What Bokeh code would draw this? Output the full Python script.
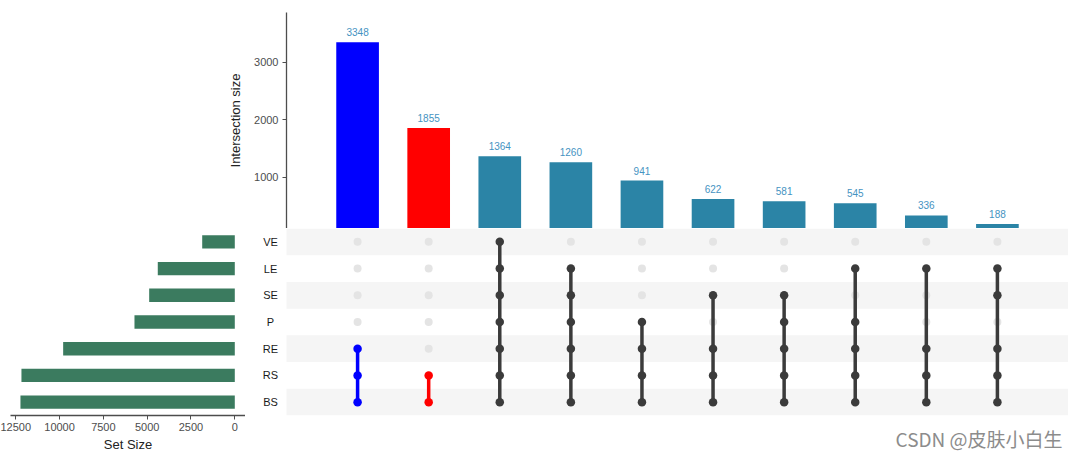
from bokeh.plotting import figure
from bokeh.layouts import column, row
from bokeh.models import Range1d, FactorRange, FixedTicker, Title
from bokeh.core.properties import value
from bokeh.embed import file_html
from bokeh.resources import INLINE

# ---------------- data ----------------
set_names = ["VE", "LE", "SE", "P", "RE", "RS", "BS"]          # top to bottom
set_sizes = [1860, 4395, 4886, 5725, 9795, 12175, 12232]
set_ticks = [0, 2500, 5000, 7500, 10000, 12500]

intersection_sizes = [3348, 1855, 1364, 1260, 941, 622, 581, 545, 336, 188]
intersection_members = [
    ["RE", "RS", "BS"],
    ["RS", "BS"],
    ["VE", "LE", "SE", "P", "RE", "RS", "BS"],
    ["LE", "SE", "P", "RE", "RS", "BS"],
    ["P", "RE", "RS", "BS"],
    ["SE", "RE", "RS", "BS"],
    ["SE", "P", "RE", "RS", "BS"],
    ["LE", "P", "RE", "RS", "BS"],
    ["LE", "RE", "RS", "BS"],
    ["LE", "SE", "RE", "RS", "BS"],
]
size_ticks = [1000, 2000, 3000]
watermark = "CSDN @皮肤小白生"

# ---------------- styles ----------------
FONT = value("Liberation Sans")
bar_colors = ["#0000ff", "#ff0000"] + ["#2b84a6"] * 8
dot_colors = ["#0000ff", "#ff0000"] + ["#3b3b3b"] * 8
set_bar_color = "#3b7b5f"
label_color = "#4593c2"
axis_color = "#4d4d4d"

cols = list(range(1, len(intersection_sizes) + 1))
n_x = len(cols) + 1
col_px = 782 / n_x

# ---------------- top: intersection sizes ----------------
top = figure(frame_width=782, frame_height=216,
             x_range=Range1d(0, n_x), y_range=Range1d(108, 3864),
             output_backend="svg", toolbar_location=None,
             x_axis_location=None,
             min_border_left=286, min_border_right=0,
             min_border_top=12, min_border_bottom=0)
top.vbar(x=cols, top=intersection_sizes, bottom=0, width=0.6,
         color=bar_colors, line_color=None)
top.text(x=cols, y=intersection_sizes, text=[str(v) for v in intersection_sizes],
         text_align="center", text_baseline="bottom", y_offset=-6,
         text_font=FONT, text_font_size="10px", text_color=label_color)
yax = top.yaxis[0]
yax.ticker = FixedTicker(ticks=size_ticks)
yax.axis_label = "Intersection size"
yax.axis_label_text_font = "Liberation Sans"
yax.axis_label_text_font_size = "13px"
yax.axis_label_text_font_style = "normal"
yax.axis_label_text_color = "#222222"
yax.axis_label_standoff = 8
yax.major_label_text_font = "Liberation Sans"
yax.major_label_text_font_size = "11px"
yax.major_label_text_color = "#4d4d4d"
yax.major_label_standoff = 4
yax.major_tick_out = 4
yax.major_tick_in = 0
yax.minor_tick_out = 0
yax.minor_tick_in = 0
yax.axis_line_color = axis_color
yax.axis_line_width = 1.3
yax.major_tick_line_color = axis_color
top.grid.visible = False
top.outline_line_color = None

# ---------------- bottom-left: set sizes ----------------
factors = list(reversed(set_names))
left = figure(frame_width=235, frame_height=187,
              x_range=Range1d(12800, -611), y_range=FactorRange(*factors),
              output_backend="svg", toolbar_location=None,
              y_axis_location=None,
              min_border_left=10, min_border_right=0,
              min_border_top=0, min_border_bottom=36)
left.hbar(y=set_names, left=0, right=set_sizes, height=0.5,
          color=set_bar_color, line_color=None)
xax = left.xaxis[0]
xax.ticker = FixedTicker(ticks=set_ticks)
xax.axis_label = "Set Size"
xax.axis_label_text_font = "Liberation Sans"
xax.axis_label_text_font_size = "13px"
xax.axis_label_text_font_style = "normal"
xax.axis_label_text_color = "#222222"
xax.axis_label_standoff = 3
xax.major_label_text_font = "Liberation Sans"
xax.major_label_text_font_size = "11px"
xax.major_label_text_color = "#4d4d4d"
xax.major_label_standoff = 3
xax.major_tick_out = 4
xax.major_tick_in = 0
xax.minor_tick_out = 0
xax.minor_tick_in = 0
xax.axis_line_color = axis_color
xax.axis_line_width = 1.3
xax.major_tick_line_color = axis_color
left.grid.visible = False
left.outline_line_color = None

# ---------------- bottom-right: matrix ----------------
mat_start = -(286 - 245) / col_px
mat = figure(frame_width=823, frame_height=187,
             x_range=Range1d(mat_start, n_x), y_range=FactorRange(*factors),
             output_backend="svg", toolbar_location=None,
             x_axis_location=None, y_axis_location=None,
             min_border_left=0, min_border_right=0,
             min_border_top=0, min_border_bottom=36)
mat.hbar(y=set_names[::2], left=0, right=n_x, height=1,
         color="#f5f5f5", line_color=None)

gx, gy, mx, my, mc = [], [], [], [], []
sx, sy0, sy1, sc = [], [], [], []
for c, members, col in zip(cols, intersection_members, dot_colors):
    for s in set_names:
        if s in members:
            mx.append(c); my.append(s); mc.append(col)
        else:
            gx.append(c); gy.append(s)
    idx = [set_names.index(s) for s in members]
    sx.append(c)
    sy0.append(set_names[min(idx)])
    sy1.append(set_names[max(idx)])
    sc.append(col)

mat.scatter(x=gx, y=gy, size=8, color="#e4e4e4", line_color=None)
mat.segment(x0=sx, y0=sy0, x1=sx, y1=sy1, line_color=sc, line_width=3.5)
mat.scatter(x=mx, y=my, size=8.5, color=mc, line_color=None)

label_x = -(286 - 270) / col_px
mat.text(x=[label_x] * len(set_names), y=set_names, text=set_names,
         text_align="center", text_baseline="middle",
         text_font=FONT, text_font_size="11px", text_color="#1a1a1a")

mat.add_layout(Title(text=watermark, align="right",
                     text_font="Noto Sans CJK SC", text_font_size="19px",
                     text_font_style="normal", text_color="#8c8c8c",
                     standoff=14, offset=6), "below")
mat.grid.visible = False
mat.outline_line_color = None

layout = column(top, row(left, mat))
open("out.html", "w").write(file_html(layout, INLINE))
